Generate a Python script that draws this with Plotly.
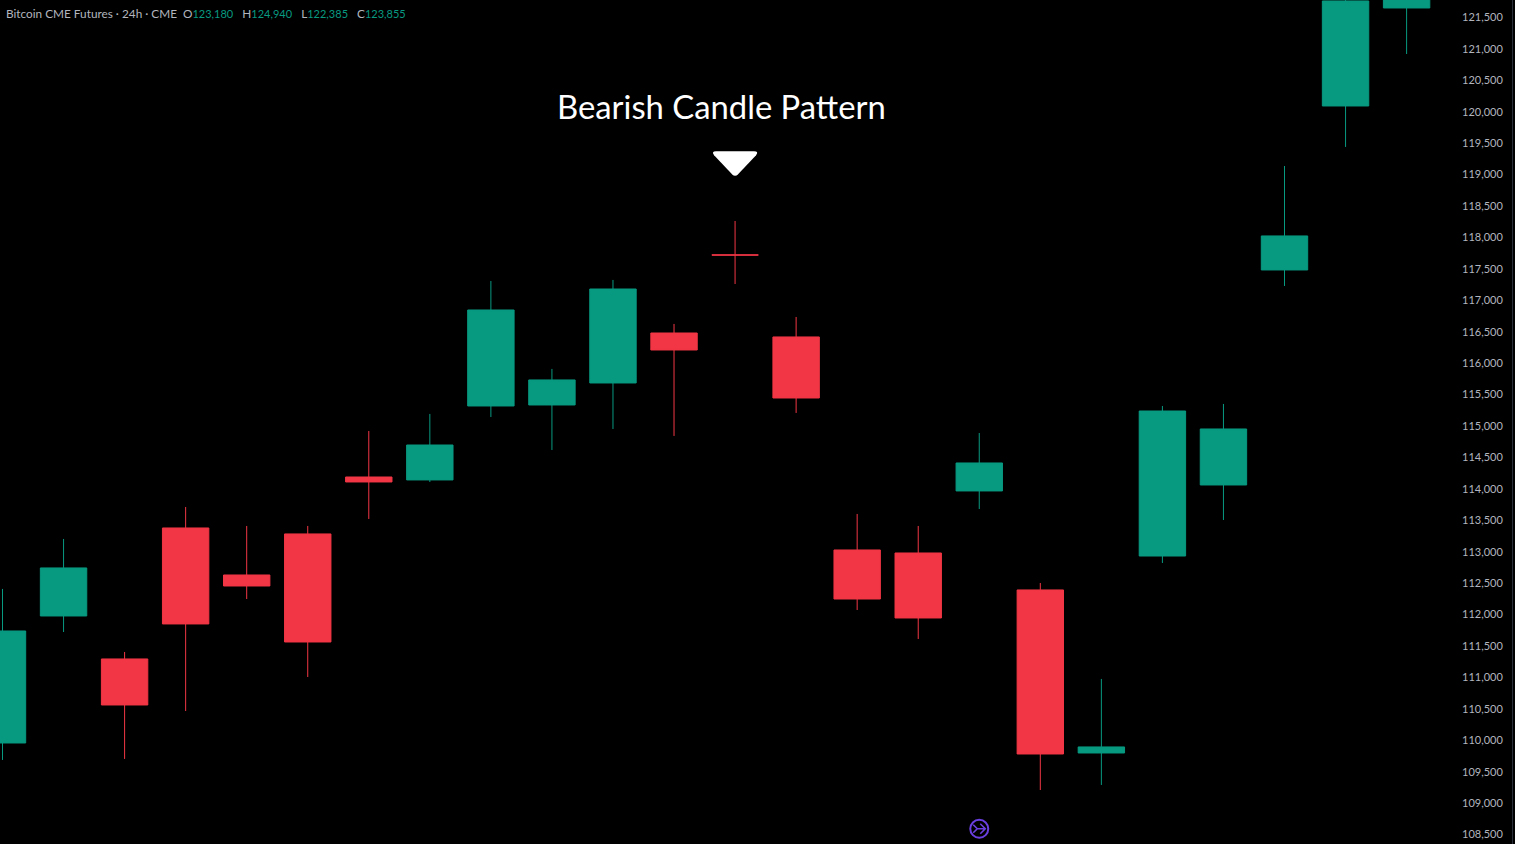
import plotly.graph_objects as go

# daily bars, left to right
bar_index = list(range(24))
opens = [109957, 111978, 111294, 113378, 112630, 113283, 114189, 114142, 115319, 115335, 115685, 116480,
         117722, 116417, 113028, 112980, 113967, 112392, 109798, 112932, 114062, 117483, 120092, 121651]
highs = [112408, 113203, 111405, 113712, 113410, 113410, 114921, 115192, 117308, 115908, 117324, 116624,
         118262, 116735, 113601, 113410, 114889, 112503, 110976, 115319, 115351, 119137, 121900, 122600]
lows = [109687, 111723, 109703, 110466, 112248, 111007, 113521, 114110, 115144, 114619, 114953, 114842,
        117260, 115208, 112073, 111612, 113680, 109209, 109289, 112821, 113505, 117228, 119440, 120919]
closes = [111739, 112742, 110562, 111851, 112455, 111564, 114110, 114698, 116846, 115733, 117180, 116210,
          117720, 115446, 112248, 111946, 114412, 109782, 109894, 115239, 114953, 118024, 121763, 122500]

price_ticks = list(range(108500, 122000, 500))

pattern_bar = 12
pattern_price = 119182
title_price = 120089
note_bar = 16
note_price = 108592

GREEN = "#089981"
RED = "#F23645"
BG = "#000000"
PURPLE = "#6a3fe0"
FONT = "Lato, 'Noto Sans', sans-serif"

fig = go.Figure()

fig.add_trace(
    go.Candlestick(
        x=bar_index,
        open=opens,
        high=highs,
        low=lows,
        close=closes,
        increasing=dict(line=dict(color=GREEN, width=1), fillcolor=GREEN),
        decreasing=dict(line=dict(color=RED, width=1), fillcolor=RED),
        whiskerwidth=0,
        showlegend=False,
    )
)

# purple marker at the bottom of the pane
fig.add_trace(
    go.Scatter(
        x=[note_bar],
        y=[note_price],
        mode="markers",
        marker=dict(symbol="circle-open", size=18, color=PURPLE, line=dict(width=2, color=PURPLE)),
        showlegend=False,
    )
)

fig.update_layout(
    width=1515,
    height=844,
    autosize=False,
    margin=dict(l=0, r=57, t=0, b=0),
    paper_bgcolor=BG,
    plot_bgcolor=BG,
    boxgap=0.24,
    boxgroupgap=0,
    font=dict(family=FONT, color="#b2b5be", size=12),
    showlegend=False,
    xaxis=dict(
        range=[-0.041, 23.842],
        visible=False,
        rangeslider=dict(visible=False),
    ),
    yaxis=dict(
        range=[108350, 121778],
        side="right",
        tickvals=price_ticks,
        tickformat=",d",
        showgrid=False,
        zeroline=False,
        showline=False,
        ticks="",
        ticklabelstandoff=3,
        tickfont=dict(family=FONT, size=11, color="#b2b5be"),
    ),
)

value_style = f"color:{GREEN};font-size:11px"
fig.add_annotation(
    xref="paper",
    yref="paper",
    x=0.0027,
    y=0.9835,
    xanchor="left",
    yanchor="middle",
    showarrow=False,
    font=dict(family=FONT, size=11.8, color="#b2b5be"),
    text=(
        "Bitcoin CME Futures · 24h · CME  "
        f"O<span style='{value_style}'>123,180</span>   "
        f"H<span style='{value_style}'>124,940</span>   "
        f"L<span style='{value_style}'>122,385</span>   "
        f"C<span style='{value_style}'>123,855</span>"
    ),
)

fig.add_annotation(
    x=pattern_bar - 0.23,
    y=title_price,
    xanchor="center",
    yanchor="middle",
    showarrow=False,
    font=dict(family=FONT, size=32.8, color="#ffffff"),
    text="Bearish Candle Pattern",
)

# white pointer above the doji, rounded corners
fig.add_shape(
    type="path",
    xref="x",
    yref="y",
    xsizemode="pixel",
    ysizemode="pixel",
    xanchor=pattern_bar,
    yanchor=pattern_price,
    path="M -19 12 L 19 12 Q 24 12 21 8 L 3 -11 Q 0 -14 -3 -11 L -21 8 Q -24 12 -19 12 Z",
    fillcolor="#ffffff",
    line=dict(width=0),
)

# arrow inside the purple circle
fig.add_shape(
    type="path",
    xref="x",
    yref="y",
    xsizemode="pixel",
    ysizemode="pixel",
    xanchor=note_bar,
    yanchor=note_price,
    path="M -6 4 L -2 0 L -6 -4 M -2 0 L 6 0 M 1 5 L 6 0 L 1 -5",
    line=dict(color=PURPLE, width=1.6),
)

# thin pane border on the far right
fig.add_shape(
    type="line",
    xref="paper",
    yref="paper",
    x0=1512.5 / 1458,
    x1=1512.5 / 1458,
    y0=0,
    y1=1,
    line=dict(color="#2a2e39", width=1),
)

fig.write_html(
    "out.html",
    config=dict(displayModeBar=False),
    post_script="document.body.style.margin='0';document.body.style.background='#000';document.body.style.overflow='hidden';",
)
